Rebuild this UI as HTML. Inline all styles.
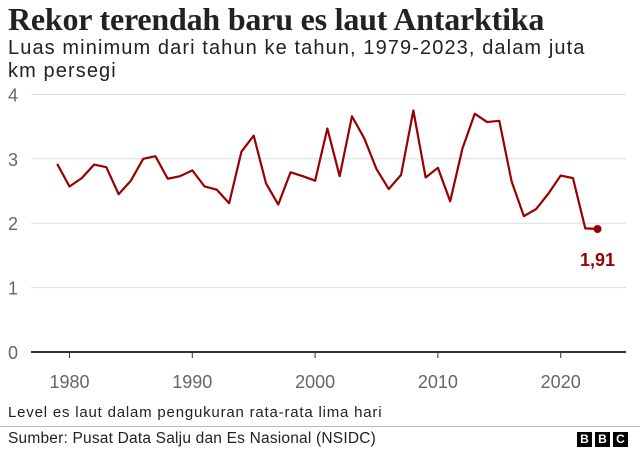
<!DOCTYPE html>
<html><head><meta charset="utf-8"><style>
body{margin:0;background:#fff;width:640px;height:450px;overflow:hidden;font-family:"Liberation Sans",sans-serif;}
.t{position:absolute;left:8px;top:1px;font-family:"Liberation Serif",serif;font-size:32px;font-weight:bold;color:#222;letter-spacing:-0.2px}
.s{position:absolute;left:8px;top:37px;font-size:20px;line-height:23px;color:#222;width:632px;letter-spacing:1.1px}
.f{position:absolute;left:8px;top:404px;font-size:15px;color:#222;letter-spacing:0.8px}
.hr{position:absolute;left:0;top:426px;width:640px;height:1px;background:#bbb}
.src{position:absolute;left:8px;top:430px;font-size:15.5px;color:#222;letter-spacing:0.2px}
.bbc{position:absolute;top:432px;width:15px;height:15px;background:#000;color:#fff;font-weight:bold;font-size:12px;text-align:center;line-height:15px}
</style></head><body>
<div class="t">Rekor terendah baru es laut Antarktika</div>
<div class="s">Luas minimum dari tahun ke tahun, 1979-2023, dalam juta<br>km persegi</div>
<svg id="c" width="640" height="450" style="position:absolute;left:0;top:0"></svg>
<div class="f">Level es laut dalam pengukuran rata-rata lima hari</div>
<div class="hr"></div>
<div class="src">Sumber: Pusat Data Salju dan Es Nasional (NSIDC)</div>
<div class="bbc" style="left:577px">B</div>
<div class="bbc" style="left:595px">B</div>
<div class="bbc" style="left:613px">C</div>
<script>
const years=[1979,1980,1981,1982,1983,1984,1985,1986,1987,1988,1989,1990,1991,1992,1993,1994,1995,1996,1997,1998,1999,2000,2001,2002,2003,2004,2005,2006,2007,2008,2009,2010,2011,2012,2013,2014,2015,2016,2017,2018,2019,2020,2021,2022,2023];
const extent=[2.92,2.57,2.70,2.91,2.87,2.45,2.66,3.00,3.04,2.69,2.73,2.82,2.57,2.52,2.31,3.11,3.36,2.62,2.29,2.79,2.73,2.66,3.47,2.73,3.66,3.32,2.84,2.53,2.75,3.75,2.71,2.86,2.34,3.16,3.70,3.57,3.59,2.65,2.11,2.22,2.46,2.74,2.70,1.92,1.91];
const yTicks=[0,1,2,3,4];
const xTicks=[1980,1990,2000,2010,2020];
const lastLabel="1,91";
const NS="http://www.w3.org/2000/svg";
const svg=document.getElementById('c');
const X=y=>69.5+(y-1980)*12.28;
const Y=v=>352-v*64.4;
function mk(t,a){const e=document.createElementNS(NS,t);for(const k in a)e.setAttribute(k,a[k]);svg.appendChild(e);return e;}
yTicks.forEach(v=>{
 const l=mk('line',{x1:31,x2:626,y1:Y(v),y2:Y(v),stroke:v===0?'#333':'#ddd','stroke-width':v===0?2:1});
 
 
 const t=mk('text',{x:8,y:Y(v)+7,'font-size':18,fill:'#666','font-family':'Liberation Sans'});t.textContent=v;
 
 
});
xTicks.forEach(v=>{
 const l=mk('line',{x1:X(v),x2:X(v),y1:352,y2:358,stroke:'#333','stroke-width':1});
 
 
 const t=mk('text',{x:X(v),y:388,'font-size':18,fill:'#666','text-anchor':'middle','font-family':'Liberation Sans'});t.textContent=v;
 
 
});
const p=mk('polyline',{points:years.map((y,i)=>X(y)+','+Y(extent[i])).join(' '),fill:'none',stroke:'#990000','stroke-width':2.2,'stroke-linejoin':'round'});


const n=years.length-1;
const d=mk('circle',{cx:X(years[n]),cy:Y(extent[n]),r:4,fill:'#990000'});


const lt=mk('text',{x:X(years[n]),y:Y(extent[n])+37,'font-size':18,'font-weight':'bold',fill:'#990000','text-anchor':'middle','font-family':'Liberation Sans'});lt.textContent=lastLabel;


</script>
</body></html>
